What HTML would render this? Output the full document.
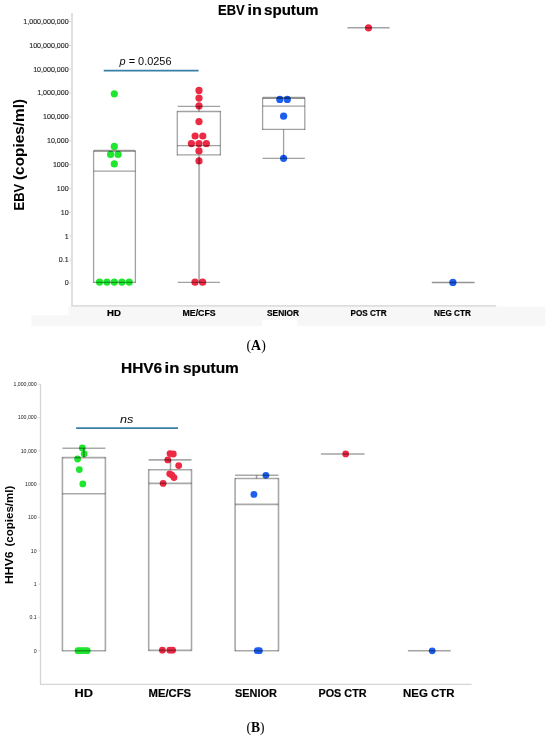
<!DOCTYPE html>
<html><head><meta charset="utf-8"><title>EBV and HHV6 in sputum</title>
<style>
html,body{margin:0;padding:0;background:#fff;width:550px;height:737px;overflow:hidden}
svg{display:block}
</style></head><body>
<svg width="550" height="737" viewBox="0 0 550 737">
<rect x="0" y="0" width="550" height="737" fill="#ffffff"/>
<rect x="68.6" y="306.5" width="476.7" height="19.5" fill="#f7f7f7"/>
<rect x="31.4" y="315.3" width="37.2" height="10.7" fill="#f7f7f7"/>
<rect x="261.8" y="320.2" width="35.5" height="6" fill="#ffffff"/>
<line x1="72" y1="13" x2="72" y2="306.5" stroke="#e0e0e0" stroke-width="2"/>
<line x1="71" y1="305.9" x2="496.2" y2="305.9" stroke="#dedede" stroke-width="1.6"/>
<line x1="69.3" y1="21.5" x2="70.8" y2="21.5" stroke="#bbbbbb" stroke-width="0.8"/>
<line x1="69.3" y1="45.35" x2="70.8" y2="45.35" stroke="#bbbbbb" stroke-width="0.8"/>
<line x1="69.3" y1="69.2" x2="70.8" y2="69.2" stroke="#bbbbbb" stroke-width="0.8"/>
<line x1="69.3" y1="93.05" x2="70.8" y2="93.05" stroke="#bbbbbb" stroke-width="0.8"/>
<line x1="69.3" y1="116.9" x2="70.8" y2="116.9" stroke="#bbbbbb" stroke-width="0.8"/>
<line x1="69.3" y1="140.75" x2="70.8" y2="140.75" stroke="#bbbbbb" stroke-width="0.8"/>
<line x1="69.3" y1="164.6" x2="70.8" y2="164.6" stroke="#bbbbbb" stroke-width="0.8"/>
<line x1="69.3" y1="188.45" x2="70.8" y2="188.45" stroke="#bbbbbb" stroke-width="0.8"/>
<line x1="69.3" y1="212.3" x2="70.8" y2="212.3" stroke="#bbbbbb" stroke-width="0.8"/>
<line x1="69.3" y1="236.15" x2="70.8" y2="236.15" stroke="#bbbbbb" stroke-width="0.8"/>
<line x1="69.3" y1="260" x2="70.8" y2="260" stroke="#bbbbbb" stroke-width="0.8"/>
<line x1="69.3" y1="283" x2="70.8" y2="283" stroke="#bbbbbb" stroke-width="0.8"/>
<line x1="103.7" y1="70.6" x2="198.6" y2="70.6" stroke="#3a7fa5" stroke-width="1.8"/>
<line x1="40.5" y1="384" x2="40.5" y2="684.3" stroke="#d5d5d5" stroke-width="1.3"/>
<line x1="40" y1="684.3" x2="471.6" y2="684.3" stroke="#d5d5d5" stroke-width="1.3"/>
<line x1="38.3" y1="384.3" x2="39.8" y2="384.3" stroke="#bbbbbb" stroke-width="0.7"/>
<line x1="38.3" y1="417.6" x2="39.8" y2="417.6" stroke="#bbbbbb" stroke-width="0.7"/>
<line x1="38.3" y1="450.9" x2="39.8" y2="450.9" stroke="#bbbbbb" stroke-width="0.7"/>
<line x1="38.3" y1="484.2" x2="39.8" y2="484.2" stroke="#bbbbbb" stroke-width="0.7"/>
<line x1="38.3" y1="517.5" x2="39.8" y2="517.5" stroke="#bbbbbb" stroke-width="0.7"/>
<line x1="38.3" y1="550.8" x2="39.8" y2="550.8" stroke="#bbbbbb" stroke-width="0.7"/>
<line x1="38.3" y1="584.1" x2="39.8" y2="584.1" stroke="#bbbbbb" stroke-width="0.7"/>
<line x1="38.3" y1="617.4" x2="39.8" y2="617.4" stroke="#bbbbbb" stroke-width="0.7"/>
<line x1="38.3" y1="650.7" x2="39.8" y2="650.7" stroke="#bbbbbb" stroke-width="0.7"/>
<line x1="76.1" y1="428.2" x2="178" y2="428.2" stroke="#3a7fa5" stroke-width="1.7"/>
<circle cx="114.3" cy="93.8" r="3.6" fill="#1fe62e"/>
<circle cx="114.3" cy="146.4" r="3.6" fill="#1fe62e"/>
<circle cx="110.6" cy="154.4" r="3.6" fill="#1fe62e"/>
<circle cx="118.1" cy="154.4" r="3.6" fill="#1fe62e"/>
<circle cx="114.3" cy="163.9" r="3.6" fill="#1fe62e"/>
<circle cx="99.5" cy="282.1" r="3.6" fill="#1fe62e"/>
<circle cx="106.9" cy="282.1" r="3.6" fill="#1fe62e"/>
<circle cx="114.3" cy="282.1" r="3.6" fill="#1fe62e"/>
<circle cx="121.9" cy="282.1" r="3.6" fill="#1fe62e"/>
<circle cx="129.2" cy="282.1" r="3.6" fill="#1fe62e"/>
<circle cx="199" cy="90.4" r="3.6" fill="#ec2a44"/>
<circle cx="199" cy="98.1" r="3.6" fill="#ec2a44"/>
<circle cx="199" cy="105.9" r="3.6" fill="#ec2a44"/>
<circle cx="199" cy="121.6" r="3.6" fill="#ec2a44"/>
<circle cx="195.1" cy="136" r="3.6" fill="#ec2a44"/>
<circle cx="202.8" cy="136" r="3.6" fill="#ec2a44"/>
<circle cx="191.4" cy="143.6" r="3.6" fill="#ec2a44"/>
<circle cx="199" cy="143.6" r="3.6" fill="#ec2a44"/>
<circle cx="206.4" cy="143.6" r="3.6" fill="#ec2a44"/>
<circle cx="199" cy="150.9" r="3.6" fill="#ec2a44"/>
<circle cx="199" cy="160.9" r="3.6" fill="#ec2a44"/>
<circle cx="195" cy="282.2" r="3.6" fill="#ec2a44"/>
<circle cx="202.6" cy="282.2" r="3.6" fill="#ec2a44"/>
<circle cx="279.8" cy="99.4" r="3.6" fill="#1d5eef"/>
<circle cx="287.3" cy="99.4" r="3.6" fill="#1d5eef"/>
<circle cx="283.6" cy="116.2" r="3.6" fill="#1d5eef"/>
<circle cx="283.6" cy="158.3" r="3.6" fill="#1d5eef"/>
<circle cx="368.5" cy="27.8" r="3.6" fill="#ec2a44"/>
<circle cx="452.9" cy="282.4" r="3.6" fill="#1d5eef"/>
<circle cx="82.3" cy="447.9" r="3.4" fill="#1fe62e"/>
<circle cx="84.2" cy="453.8" r="3.4" fill="#1fe62e"/>
<circle cx="77.6" cy="459" r="3.4" fill="#1fe62e"/>
<circle cx="79.3" cy="469.6" r="3.4" fill="#1fe62e"/>
<circle cx="82.8" cy="483.9" r="3.4" fill="#1fe62e"/>
<circle cx="78" cy="650.7" r="3.4" fill="#1fe62e"/>
<circle cx="80.3" cy="650.7" r="3.4" fill="#1fe62e"/>
<circle cx="82.6" cy="650.7" r="3.4" fill="#1fe62e"/>
<circle cx="84.9" cy="650.7" r="3.4" fill="#1fe62e"/>
<circle cx="87.2" cy="650.7" r="3.4" fill="#1fe62e"/>
<circle cx="170" cy="453.6" r="3.4" fill="#ec2a44"/>
<circle cx="173.3" cy="454" r="3.4" fill="#ec2a44"/>
<circle cx="167.8" cy="459.9" r="3.4" fill="#ec2a44"/>
<circle cx="178.7" cy="465.6" r="3.4" fill="#ec2a44"/>
<circle cx="169.7" cy="473.8" r="3.4" fill="#ec2a44"/>
<circle cx="171.9" cy="475.1" r="3.4" fill="#ec2a44"/>
<circle cx="174" cy="477.6" r="3.4" fill="#ec2a44"/>
<circle cx="163.1" cy="483.4" r="3.4" fill="#ec2a44"/>
<circle cx="162.4" cy="650.2" r="3.4" fill="#ec2a44"/>
<circle cx="169.8" cy="650.2" r="3.4" fill="#ec2a44"/>
<circle cx="172.6" cy="650.2" r="3.4" fill="#ec2a44"/>
<circle cx="265.9" cy="475.3" r="3.4" fill="#1d5eef"/>
<circle cx="253.9" cy="494.4" r="3.4" fill="#1d5eef"/>
<circle cx="257.2" cy="650.7" r="3.4" fill="#1d5eef"/>
<circle cx="259.4" cy="650.7" r="3.4" fill="#1d5eef"/>
<circle cx="345.7" cy="453.9" r="3.4" fill="#ec2a44"/>
<circle cx="432.2" cy="650.8" r="3.4" fill="#1d5eef"/>
<line x1="93.6" y1="150.4" x2="135.4" y2="150.4" stroke="#000" stroke-width="1.3" stroke-opacity="0.37"/>
<line x1="93.6" y1="151.3" x2="135.4" y2="151.3" stroke="#000" stroke-width="1.3" stroke-opacity="0.37"/>
<line x1="93.6" y1="171.2" x2="135.4" y2="171.2" stroke="#000" stroke-width="1.3" stroke-opacity="0.37"/>
<line x1="93.6" y1="282.4" x2="135.4" y2="282.4" stroke="#000" stroke-width="1.3" stroke-opacity="0.37"/>
<line x1="93.6" y1="150.7" x2="93.6" y2="283" stroke="#000" stroke-width="1.3" stroke-opacity="0.37"/>
<line x1="135.4" y1="150.7" x2="135.4" y2="283" stroke="#000" stroke-width="1.3" stroke-opacity="0.37"/>
<line x1="177.6" y1="106.3" x2="220.1" y2="106.3" stroke="#000" stroke-width="1.3" stroke-opacity="0.37"/>
<line x1="199.1" y1="106.3" x2="199.1" y2="111.5" stroke="#000" stroke-width="1.3" stroke-opacity="0.37"/>
<line x1="177.3" y1="111.5" x2="220.4" y2="111.5" stroke="#000" stroke-width="1.3" stroke-opacity="0.37"/>
<line x1="177.3" y1="145.6" x2="220.4" y2="145.6" stroke="#000" stroke-width="1.3" stroke-opacity="0.37"/>
<line x1="177.3" y1="154.8" x2="220.4" y2="154.8" stroke="#000" stroke-width="1.3" stroke-opacity="0.37"/>
<line x1="177.3" y1="110.9" x2="177.3" y2="155.4" stroke="#000" stroke-width="1.3" stroke-opacity="0.37"/>
<line x1="220.4" y1="110.9" x2="220.4" y2="155.4" stroke="#000" stroke-width="1.3" stroke-opacity="0.37"/>
<line x1="199.1" y1="155.4" x2="199.1" y2="282.4" stroke="#000" stroke-width="2" stroke-opacity="0.29"/>
<line x1="177.7" y1="282.4" x2="219.9" y2="282.4" stroke="#000" stroke-width="1.3" stroke-opacity="0.37"/>
<line x1="262.6" y1="97.5" x2="304.8" y2="97.5" stroke="#000" stroke-width="1.3" stroke-opacity="0.37"/>
<line x1="262.6" y1="98.3" x2="304.8" y2="98.3" stroke="#000" stroke-width="1.3" stroke-opacity="0.37"/>
<line x1="262.6" y1="106.2" x2="304.8" y2="106.2" stroke="#000" stroke-width="1.3" stroke-opacity="0.37"/>
<line x1="262.6" y1="129.4" x2="304.8" y2="129.4" stroke="#000" stroke-width="1.3" stroke-opacity="0.37"/>
<line x1="262.6" y1="97.7" x2="262.6" y2="130" stroke="#000" stroke-width="1.3" stroke-opacity="0.37"/>
<line x1="304.8" y1="97.7" x2="304.8" y2="130" stroke="#000" stroke-width="1.3" stroke-opacity="0.37"/>
<line x1="283.6" y1="129.4" x2="283.6" y2="158.3" stroke="#000" stroke-width="1.3" stroke-opacity="0.37"/>
<line x1="262.5" y1="158.3" x2="304.8" y2="158.3" stroke="#000" stroke-width="1.3" stroke-opacity="0.37"/>
<line x1="347.4" y1="27.8" x2="389.6" y2="27.8" stroke="#000" stroke-width="1.5" stroke-opacity="0.36"/>
<line x1="431.8" y1="282.4" x2="474.6" y2="282.4" stroke="#000" stroke-width="1.5" stroke-opacity="0.42"/>
<line x1="62.4" y1="448.3" x2="105.4" y2="448.3" stroke="#000" stroke-width="1.6" stroke-opacity="0.34"/>
<line x1="83.9" y1="448.3" x2="83.9" y2="457.6" stroke="#000" stroke-width="1.6" stroke-opacity="0.34"/>
<line x1="62.4" y1="457.6" x2="105.4" y2="457.6" stroke="#000" stroke-width="1.6" stroke-opacity="0.34"/>
<line x1="62.4" y1="493.7" x2="105.4" y2="493.7" stroke="#000" stroke-width="1.6" stroke-opacity="0.34"/>
<line x1="62.4" y1="650.7" x2="105.4" y2="650.7" stroke="#000" stroke-width="1.6" stroke-opacity="0.34"/>
<line x1="62.4" y1="457.05" x2="62.4" y2="651.25" stroke="#000" stroke-width="1.6" stroke-opacity="0.34"/>
<line x1="105.4" y1="457.05" x2="105.4" y2="651.25" stroke="#000" stroke-width="1.6" stroke-opacity="0.34"/>
<line x1="148.7" y1="459.9" x2="191.5" y2="459.9" stroke="#000" stroke-width="1.6" stroke-opacity="0.34"/>
<line x1="170.5" y1="459.9" x2="170.5" y2="469.7" stroke="#000" stroke-width="1.6" stroke-opacity="0.34"/>
<line x1="148.7" y1="469.7" x2="191.5" y2="469.7" stroke="#000" stroke-width="1.6" stroke-opacity="0.34"/>
<line x1="148.7" y1="483.4" x2="191.5" y2="483.4" stroke="#000" stroke-width="1.6" stroke-opacity="0.34"/>
<line x1="148.7" y1="650.4" x2="191.5" y2="650.4" stroke="#000" stroke-width="1.6" stroke-opacity="0.34"/>
<line x1="148.7" y1="469.15" x2="148.7" y2="650.95" stroke="#000" stroke-width="1.6" stroke-opacity="0.34"/>
<line x1="191.5" y1="469.15" x2="191.5" y2="650.95" stroke="#000" stroke-width="1.6" stroke-opacity="0.34"/>
<line x1="235.1" y1="475.3" x2="278.5" y2="475.3" stroke="#000" stroke-width="1.6" stroke-opacity="0.34"/>
<line x1="256.6" y1="475.3" x2="256.6" y2="478.5" stroke="#000" stroke-width="1.6" stroke-opacity="0.34"/>
<line x1="235.1" y1="478.5" x2="278.5" y2="478.5" stroke="#000" stroke-width="1.6" stroke-opacity="0.34"/>
<line x1="235.1" y1="504.4" x2="278.5" y2="504.4" stroke="#000" stroke-width="1.6" stroke-opacity="0.34"/>
<line x1="235.1" y1="650.7" x2="278.5" y2="650.7" stroke="#000" stroke-width="1.6" stroke-opacity="0.34"/>
<line x1="235.1" y1="477.95" x2="235.1" y2="651.25" stroke="#000" stroke-width="1.6" stroke-opacity="0.34"/>
<line x1="278.5" y1="477.95" x2="278.5" y2="651.25" stroke="#000" stroke-width="1.6" stroke-opacity="0.34"/>
<line x1="320.9" y1="453.9" x2="364.5" y2="453.9" stroke="#000" stroke-width="1.5" stroke-opacity="0.36"/>
<line x1="407.9" y1="650.8" x2="450.7" y2="650.8" stroke="#000" stroke-width="1.5" stroke-opacity="0.36"/>
<text x="68.7" y="23.85" font-size="7.1" text-anchor="end" font-family='"Liberation Sans", Arial, sans-serif' fill="#222" stroke="#222" stroke-width="0.12">1,000,000,000</text>
<text x="68.7" y="47.7" font-size="7.1" text-anchor="end" font-family='"Liberation Sans", Arial, sans-serif' fill="#222" stroke="#222" stroke-width="0.12">100,000,000</text>
<text x="68.7" y="71.55" font-size="7.1" text-anchor="end" font-family='"Liberation Sans", Arial, sans-serif' fill="#222" stroke="#222" stroke-width="0.12">10,000,000</text>
<text x="68.7" y="95.4" font-size="7.1" text-anchor="end" font-family='"Liberation Sans", Arial, sans-serif' fill="#222" stroke="#222" stroke-width="0.12">1,000,000</text>
<text x="68.7" y="119.25" font-size="7.1" text-anchor="end" font-family='"Liberation Sans", Arial, sans-serif' fill="#222" stroke="#222" stroke-width="0.12">100,000</text>
<text x="68.7" y="143.1" font-size="7.1" text-anchor="end" font-family='"Liberation Sans", Arial, sans-serif' fill="#222" stroke="#222" stroke-width="0.12">10,000</text>
<text x="68.7" y="166.95" font-size="7.1" text-anchor="end" font-family='"Liberation Sans", Arial, sans-serif' fill="#222" stroke="#222" stroke-width="0.12">1000</text>
<text x="68.7" y="190.8" font-size="7.1" text-anchor="end" font-family='"Liberation Sans", Arial, sans-serif' fill="#222" stroke="#222" stroke-width="0.12">100</text>
<text x="68.7" y="214.65" font-size="7.1" text-anchor="end" font-family='"Liberation Sans", Arial, sans-serif' fill="#222" stroke="#222" stroke-width="0.12">10</text>
<text x="68.7" y="238.5" font-size="7.1" text-anchor="end" font-family='"Liberation Sans", Arial, sans-serif' fill="#222" stroke="#222" stroke-width="0.12">1</text>
<text x="68.7" y="262.35" font-size="7.1" text-anchor="end" font-family='"Liberation Sans", Arial, sans-serif' fill="#222" stroke="#222" stroke-width="0.12">0.1</text>
<text x="68.7" y="285.35" font-size="7.1" text-anchor="end" font-family='"Liberation Sans", Arial, sans-serif' fill="#222" stroke="#222" stroke-width="0.12">0</text>
<text x="36.6" y="386.15" font-size="5.2" text-anchor="end" font-family='"Liberation Sans", Arial, sans-serif' fill="#222" >1,000,000</text>
<text x="36.6" y="419.45" font-size="5.2" text-anchor="end" font-family='"Liberation Sans", Arial, sans-serif' fill="#222" >100,000</text>
<text x="36.6" y="452.75" font-size="5.2" text-anchor="end" font-family='"Liberation Sans", Arial, sans-serif' fill="#222" >10,000</text>
<text x="36.6" y="486.05" font-size="5.2" text-anchor="end" font-family='"Liberation Sans", Arial, sans-serif' fill="#222" >1000</text>
<text x="36.6" y="519.35" font-size="5.2" text-anchor="end" font-family='"Liberation Sans", Arial, sans-serif' fill="#222" >100</text>
<text x="36.6" y="552.65" font-size="5.2" text-anchor="end" font-family='"Liberation Sans", Arial, sans-serif' fill="#222" >10</text>
<text x="36.6" y="585.95" font-size="5.2" text-anchor="end" font-family='"Liberation Sans", Arial, sans-serif' fill="#222" >1</text>
<text x="36.6" y="619.25" font-size="5.2" text-anchor="end" font-family='"Liberation Sans", Arial, sans-serif' fill="#222" >0.1</text>
<text x="36.6" y="652.55" font-size="5.2" text-anchor="end" font-family='"Liberation Sans", Arial, sans-serif' fill="#222" >0</text>
<text x="218.0" y="14.7" font-size="14" font-weight="bold" font-family='"Liberation Sans", Arial, sans-serif' fill="#000" stroke="#000" stroke-width="0.18" textLength="26.6" lengthAdjust="spacingAndGlyphs">EBV</text>
<text x="247.5" y="14.7" font-size="14" font-weight="bold" font-family='"Liberation Sans", Arial, sans-serif' fill="#000" stroke="#000" stroke-width="0.18" textLength="14.45" lengthAdjust="spacingAndGlyphs">in</text>
<text x="264.0" y="14.7" font-size="14" font-weight="bold" font-family='"Liberation Sans", Arial, sans-serif' fill="#000" stroke="#000" stroke-width="0.18" textLength="54.56" lengthAdjust="spacingAndGlyphs">sputum</text>
<text x="121.0" y="372.5" font-size="14.3" font-weight="bold" font-family='"Liberation Sans", Arial, sans-serif' fill="#000" stroke="#000" stroke-width="0.18" textLength="41.14" lengthAdjust="spacingAndGlyphs">HHV6</text>
<text x="164.5" y="372.5" font-size="14.3" font-weight="bold" font-family='"Liberation Sans", Arial, sans-serif' fill="#000" stroke="#000" stroke-width="0.18" textLength="14.92" lengthAdjust="spacingAndGlyphs">in</text>
<text x="183.0" y="372.5" font-size="14.3" font-weight="bold" font-family='"Liberation Sans", Arial, sans-serif' fill="#000" stroke="#000" stroke-width="0.18" textLength="55.83" lengthAdjust="spacingAndGlyphs">sputum</text>
<text x="119.5" y="65.0" font-size="10.1" font-family='"Liberation Sans", Arial, sans-serif' fill="#0a0a0a" textLength="52.02" lengthAdjust="spacingAndGlyphs"><tspan font-style="italic">p</tspan> = 0.0256</text>
<text x="120.0" y="422.5" font-size="11.2" font-style="italic" font-family='"Liberation Sans", Arial, sans-serif' fill="#0a0a0a" textLength="13.43" lengthAdjust="spacingAndGlyphs">ns</text>
<text x="0" y="0" transform="translate(24.0,210.5) rotate(-90)" font-size="14" font-weight="bold" font-family='"Liberation Sans", Arial, sans-serif' fill="#000" textLength="26.8" lengthAdjust="spacingAndGlyphs">EBV</text>
<text x="0" y="0" transform="translate(24.0,180.0) rotate(-90)" font-size="14" font-weight="bold" font-family='"Liberation Sans", Arial, sans-serif' fill="#000" textLength="81.11" lengthAdjust="spacingAndGlyphs">(copies/ml)</text>
<text x="0" y="0" transform="translate(12.8,584.0) rotate(-90)" font-size="10.5" font-weight="bold" font-family='"Liberation Sans", Arial, sans-serif' fill="#000" textLength="32.62" lengthAdjust="spacingAndGlyphs">HHV6</text>
<text x="0" y="0" transform="translate(12.8,546.5) rotate(-90)" font-size="10.5" font-weight="bold" font-family='"Liberation Sans", Arial, sans-serif' fill="#000" textLength="60.84" lengthAdjust="spacingAndGlyphs">(copies/ml)</text>
<text x="107.0" y="315.8" font-size="8.5" font-weight="bold" font-family='"Liberation Sans", Arial, sans-serif' fill="#000" stroke="#000" stroke-width="0.18" textLength="13.88" lengthAdjust="spacingAndGlyphs">HD</text>
<text x="182.5" y="315.8" font-size="8.5" font-weight="bold" font-family='"Liberation Sans", Arial, sans-serif' fill="#000" stroke="#000" stroke-width="0.18" textLength="33.12" lengthAdjust="spacingAndGlyphs">ME/CFS</text>
<text x="267.0" y="315.8" font-size="8.5" font-weight="bold" font-family='"Liberation Sans", Arial, sans-serif' fill="#000" stroke="#000" stroke-width="0.18" textLength="32.19" lengthAdjust="spacingAndGlyphs">SENIOR</text>
<text x="350.5" y="315.8" font-size="8.5" font-weight="bold" font-family='"Liberation Sans", Arial, sans-serif' fill="#000" stroke="#000" stroke-width="0.18" textLength="36.18" lengthAdjust="spacingAndGlyphs">POS CTR</text>
<text x="434.0" y="315.8" font-size="8.5" font-weight="bold" font-family='"Liberation Sans", Arial, sans-serif' fill="#000" stroke="#000" stroke-width="0.18" textLength="36.85" lengthAdjust="spacingAndGlyphs">NEG CTR</text>
<text x="74.5" y="696.8" font-size="11.4" font-weight="bold" font-family='"Liberation Sans", Arial, sans-serif' fill="#000" stroke="#000" stroke-width="0.18" textLength="18.45" lengthAdjust="spacingAndGlyphs">HD</text>
<text x="148.5" y="696.8" font-size="11.4" font-weight="bold" font-family='"Liberation Sans", Arial, sans-serif' fill="#000" stroke="#000" stroke-width="0.18" textLength="42.65" lengthAdjust="spacingAndGlyphs">ME/CFS</text>
<text x="235.0" y="696.8" font-size="11.4" font-weight="bold" font-family='"Liberation Sans", Arial, sans-serif' fill="#000" stroke="#000" stroke-width="0.18" textLength="41.87" lengthAdjust="spacingAndGlyphs">SENIOR</text>
<text x="318.5" y="696.8" font-size="11.4" font-weight="bold" font-family='"Liberation Sans", Arial, sans-serif' fill="#000" stroke="#000" stroke-width="0.18" textLength="48.04" lengthAdjust="spacingAndGlyphs">POS CTR</text>
<text x="403.0" y="696.8" font-size="11.4" font-weight="bold" font-family='"Liberation Sans", Arial, sans-serif' fill="#000" stroke="#000" stroke-width="0.18" textLength="51.47" lengthAdjust="spacingAndGlyphs">NEG CTR</text>
<text x="246.5" y="349.6" font-size="14.3" font-family='"Liberation Serif", "Times New Roman", serif' fill="#000" textLength="19.26" lengthAdjust="spacingAndGlyphs">(<tspan font-weight="bold">A</tspan>)</text>
<text x="246.5" y="731.5" font-size="14.3" font-family='"Liberation Serif", "Times New Roman", serif' fill="#000" textLength="18.08" lengthAdjust="spacingAndGlyphs">(<tspan font-weight="bold">B</tspan>)</text>
</svg>
</body></html>
